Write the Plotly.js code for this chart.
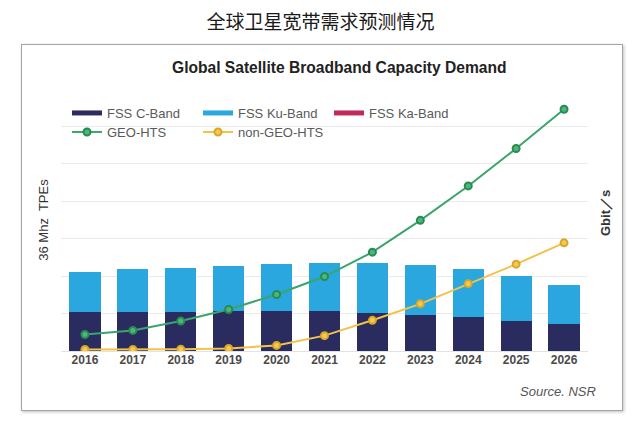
<!DOCTYPE html>
<html>
<head>
<meta charset="utf-8">
<script src="https://cdn.plot.ly/plotly-3.0.1.min.js"></script>
<style>
  html, body { margin: 0; padding: 0; background: #ffffff; }
  #wrap { position: relative; width: 641px; height: 421px; overflow: hidden; }
  #box { position: absolute; left: 21px; top: 44px; width: 600px; height: 365px;
         border: 1.5px solid #a5a5a5; box-shadow: 1px 1px 3px rgba(0,0,0,0.25); background: #fff; }
  #chart { position: absolute; left: 0; top: 0; width: 641px; height: 421px; }
</style>
</head>
<body>
<div id="wrap">
  <div id="box"></div>
  <div id="chart"></div>
</div>
<script>
// ---- data (in gridline units) ----
var years = ["2016","2017","2018","2019","2020","2021","2022","2023","2024","2025","2026"];
var fssC  = [1.05, 1.05, 1.05, 1.07, 1.06, 1.06, 1.01, 0.96, 0.90, 0.81, 0.72];
var fssKu = [1.07, 1.14, 1.16, 1.21, 1.27, 1.28, 1.33, 1.35, 1.28, 1.20, 1.04];
var fssKa = [0, 0, 0, 0, 0, 0, 0, 0, 0, 0, 0];
var geoHTS    = [0.44, 0.55, 0.80, 1.11, 1.51, 1.99, 2.64, 3.49, 4.41, 5.41, 6.46];
var nonGeoHTS = [0.04, 0.04, 0.05, 0.07, 0.15, 0.41, 0.82, 1.26, 1.80, 2.32, 2.89];
var gridVals = [1, 2, 3, 4, 5, 6, 7];

var cNavy = "#2a2b5e", cBlue = "#2aa7df", cKa = "#c42a57";
var cGreen = "#3aa56c", cYellow = "#f2c24a";

var traces = [
  {type: "bar", name: "FSS C-Band", x: years, y: fssC, marker: {color: cNavy}, showlegend: false},
  {type: "bar", name: "FSS Ku-Band", x: years, y: fssKu, marker: {color: cBlue}, showlegend: false},
  {type: "bar", name: "FSS Ka-Band", x: years, y: fssKa, marker: {color: cKa}, showlegend: false},
  // legend swatches for the bars
  {type: "scatter", mode: "lines", name: "FSS C-Band", x: [null], y: [null], line: {color: cNavy, width: 5}, legend: "legend"},
  {type: "scatter", mode: "lines", name: "FSS Ku-Band", x: [null], y: [null], line: {color: cBlue, width: 5}, legend: "legend"},
  {type: "scatter", mode: "lines", name: "FSS Ka-Band", x: [null], y: [null], line: {color: cKa, width: 5}, legend: "legend"},
  {type: "scatter", mode: "lines+markers", name: "GEO-HTS", x: years, y: geoHTS, yaxis: "y2",
   line: {color: cGreen, width: 2}, marker: {color: "#4cb877", size: 7, line: {color: "#2a8a55", width: 2}}, legend: "legend2"},
  {type: "scatter", mode: "lines+markers", name: "non-GEO-HTS", x: years, y: nonGeoHTS, yaxis: "y2",
   line: {color: cYellow, width: 2}, marker: {color: "#f5c84f", size: 7, line: {color: "#d9a62c", width: 2}}, legend: "legend2"}
];

var legendFont = {family: "Liberation Sans, Arial, sans-serif", size: 13, color: "#5a5a5a"};

var layout = {
  width: 641, height: 421,
  margin: {l: 61, r: 53, t: 89, b: 70},
  paper_bgcolor: "rgba(0,0,0,0)",
  plot_bgcolor: "rgba(0,0,0,0)",
  barmode: "stack",
  bargap: 0.35,
  title: {
    text: "全球卫星宽带需求预测情况",
    font: {family: "Noto Sans CJK SC, sans-serif", size: 19, color: "#1a1a1a"},
    x: 0.5, xref: "container", xanchor: "center",
    y: 1 - 22/421, yref: "container", yanchor: "middle"
  },
  xaxis: {
    type: "category", range: [-0.5, 10.5],
    showgrid: false, showline: false, ticks: "",
    tickfont: {family: "Liberation Sans, Arial, sans-serif", size: 12, color: "#4a4a4a", weight: "bold"}
  },
  yaxis: {
    range: [0, 7], tickvals: gridVals, showticklabels: false,
    showgrid: true, gridcolor: "#ebebeb", gridwidth: 1,
    zeroline: true, zerolinecolor: "#e3e3e3", zerolinewidth: 1,
    showline: false, ticks: "",
    title: {text: "36 Mhz\u00a0 TPEs", font: {family: "Liberation Sans, Arial, sans-serif", size: 13, color: "#333"}, standoff: 8}
  },
  yaxis2: {
    range: [0, 7], overlaying: "y", side: "right",
    showgrid: false, zeroline: false, showticklabels: false, ticks: "", showline: false
  },
  legend: {
    orientation: "h", x: 6/527, xanchor: "left", y: (351-113)/262, yanchor: "middle",
    bgcolor: "rgba(0,0,0,0)", font: legendFont, entrywidth: 86, entrywidthmode: "pixels",
    itemwidth: 30, traceorder: "normal"
  },
  legend2: {
    orientation: "h", x: 6/527, xanchor: "left", y: (351-132)/262, yanchor: "middle",
    bgcolor: "rgba(0,0,0,0)", font: legendFont, entrywidth: 86, entrywidthmode: "pixels",
    itemwidth: 30, traceorder: "normal"
  },
  annotations: [
    {text: "<b>Global Satellite Broadband Capacity Demand</b>", xref: "paper", yref: "paper",
     x: (339-61)/527, y: (351-68)/262, xanchor: "center", yanchor: "middle", showarrow: false,
     font: {family: "Liberation Sans, Arial, sans-serif", size: 15.6, color: "#222"}},
    {text: "Gbit／s", xref: "paper", yref: "paper", textangle: -90,
     x: (605-61)/527, y: (351-213)/262, xanchor: "center", yanchor: "middle", showarrow: false,
     font: {family: "Liberation Sans, Arial, sans-serif", size: 13, color: "#333", weight: "bold"}},
    {text: "<i>Source. NSR</i>", xref: "paper", yref: "paper",
     x: (598-61)/527, y: (351-391)/262, xanchor: "right", yanchor: "middle", showarrow: false,
     font: {family: "Liberation Sans, Arial, sans-serif", size: 13, color: "#555"}}
  ]
};

Plotly.newPlot("chart", traces, layout, {displayModeBar: false, staticPlot: true});
</script>
</body>
</html>
